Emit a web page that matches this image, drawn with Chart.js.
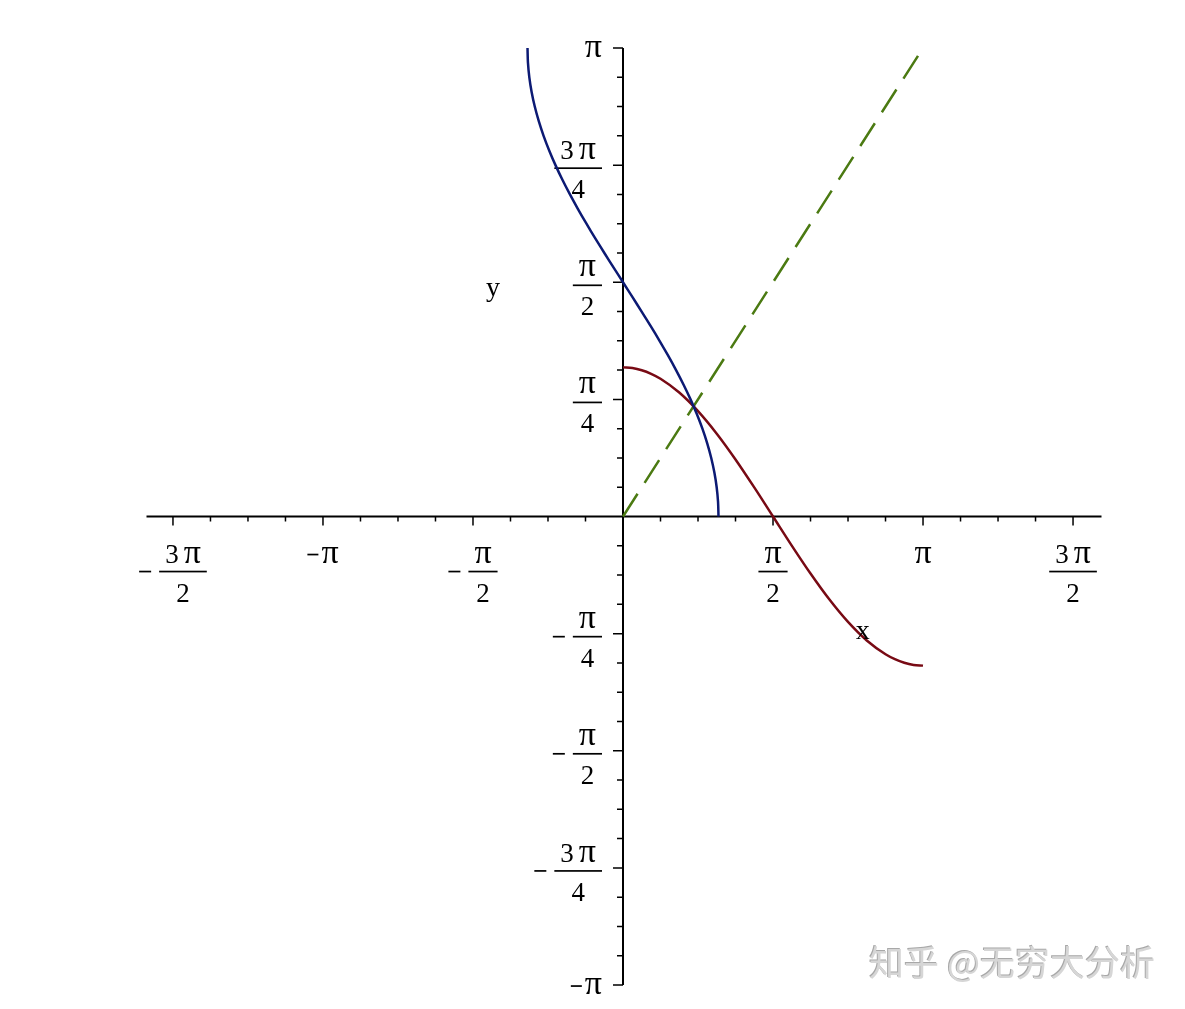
<!DOCTYPE html>
<html>
<head>
<meta charset="utf-8">
<script src="https://cdn.jsdelivr.net/npm/chart.js@4"></script>
<style>
  html, body { margin: 0; padding: 0; background: #fff; }
  canvas { display: block; }
</style>
</head>
<body>
<canvas id="chart" width="1185" height="1009"></canvas>
<script>
const PI = Math.PI

// y = cos(x) (x from 0 to pi)
const cosX = [0, 0.0982, 0.1963, 0.2945, 0.3927, 0.5890, 0.7854, 0.9817, 1.1781, 1.3744, 1.5708,
  1.7671, 1.9635, 2.1598, 2.3562, 2.5525, 2.7489, 2.8471, 2.9452, 3.0434, 3.1416]
const cosY = [1, 0.9952, 0.9808, 0.9569, 0.9239, 0.8315, 0.7071, 0.5556, 0.3827, 0.1951, 0,
  -0.1951, -0.3827, -0.5556, -0.7071, -0.8315, -0.9239, -0.9569, -0.9808, -0.9952, -1]

// y = arccos(x), blue curve, listed from the bottom end (1, 0) up to (-1, pi)
const acosX = [1, 0.9952, 0.9808, 0.9569, 0.9239, 0.8819, 0.8315, 0.7730, 0.7071,
  0.6344, 0.5556, 0.4714, 0.3827, 0.2903, 0.1951, 0.0980, 0,
  -0.0980, -0.1951, -0.2903, -0.3827, -0.4714, -0.5556, -0.6344, -0.7071,
  -0.7730, -0.8315, -0.8819, -0.9239, -0.9569, -0.9808, -0.9952, -1]
const acosY = [0, 0.0982, 0.1963, 0.2945, 0.3927, 0.4909, 0.5890, 0.6872, 0.7854,
  0.8836, 0.9817, 1.0799, 1.1781, 1.2763, 1.3744, 1.4726, 1.5708,
  1.6690, 1.7671, 1.8653, 1.9635, 2.0617, 2.1598, 2.2580, 2.3562,
  2.4544, 2.5525, 2.6507, 2.7489, 2.8471, 2.9452, 3.0434, 3.1416]

// y = x, green dashed line
const lineX = [0, 3.1416]
const lineY = [0, 3.1416]

// axis labels
const xTickValues = [-3 * PI / 2, -PI, -PI / 2, PI / 2, PI, 3 * PI / 2]
const xTickLabels = ["-3π/2", "-π", "-π/2", "π/2", "π", "3π/2"]
const yTickValues = [PI, 3 * PI / 4, PI / 2, PI / 4, -PI / 4, -PI / 2, -3 * PI / 4, -PI]
const yTickLabels = ["π", "3π/4", "π/2", "π/4", "-π/4", "-π/2", "-3π/4", "-π"]

const toPoints = (xs, ys) => xs.map((x, i) => ({ x: x, y: ys[i] }))

const FONT = "27px 'Liberation Serif', serif"
const PI_FONT = "34px 'Liberation Serif', serif"

// Maple draws pi from a bigger symbol font, so text is split into runs
function runs(s) {
  const out = []
  for (const ch of s) {
    if (ch === "π") {
      if (out.length && /\d/.test(out[out.length - 1].t)) out.push({ t: "", font: FONT, gap: 5 })
      out.push({ t: "π", font: PI_FONT })
    } else if (out.length && out[out.length - 1].font === FONT) {
      out[out.length - 1].t += ch
    } else {
      out.push({ t: ch, font: FONT })
    }
  }
  return out
}

function measureRich(ctx, s) {
  let w = 0
  for (const r of runs(s)) {
    ctx.font = r.font
    w += ctx.measureText(r.t).width + (r.gap || 0)
  }
  return w
}

function drawRich(ctx, s, x, base, align) {
  const w = measureRich(ctx, s)
  let cx = align === "right" ? x - w : align === "center" ? x - w / 2 : x
  ctx.textAlign = "left"
  for (const r of runs(s)) {
    ctx.font = r.font
    ctx.fillText(r.t, cx, base)
    cx += ctx.measureText(r.t).width + (r.gap || 0)
  }
}

function parseLabel(s) {
  const neg = s[0] === "-"
  const body = neg ? s.slice(1) : s
  const parts = body.split("/")
  return { neg, num: parts[0], den: parts[1] }
}

function fracBar(ctx, l) {
  return Math.max(measureRich(ctx, l.num), measureRich(ctx, l.den)) + 12
}

function labelWidth(ctx, l) {
  if (!l.den) return measureRich(ctx, l.num) + (l.neg ? 14 : 0)
  return fracBar(ctx, l) + (l.neg ? 20 : 0)
}

// draws a label whose right edge sits at `right`; fraction bar at barY
function drawLabel(ctx, l, right, barY, singleBase) {
  if (!l.den) {
    drawRich(ctx, l.num, right, singleBase, "right")
    if (l.neg) {
      const left = right - measureRich(ctx, l.num)
      ctx.fillRect(left - 14, singleBase - 8.8, 11, 1.7)
    }
    return
  }
  const bar = fracBar(ctx, l)
  const left = right - bar
  ctx.fillRect(left, barY - 0.8, bar, 1.7)
  drawRich(ctx, l.num, left + bar / 2, barY - 9, "center")
  drawRich(ctx, l.den, left + bar / 2, barY + 30, "center")
  if (l.neg) ctx.fillRect(left - 20, barY - 0.8, 12, 1.7)
}

const mapleAxes = {
  id: "mapleAxes",
  beforeDraw(chart) {
    const ctx = chart.ctx
    ctx.save()
    ctx.fillStyle = "#fff"
    ctx.fillRect(0, 0, chart.width, chart.height)
    ctx.restore()
  },
  beforeDatasetsDraw(chart) {
    const { ctx, scales: { x, y } } = chart
    const ox = x.getPixelForValue(0)
    const oy = y.getPixelForValue(0)
    ctx.save()
    ctx.strokeStyle = "#000"
    ctx.fillStyle = "#000"

    // axis lines
    ctx.lineWidth = 2
    ctx.beginPath()
    ctx.moveTo(x.left + 1, oy); ctx.lineTo(x.right + 1, oy)
    ctx.moveTo(ox, y.top); ctx.lineTo(ox, y.bottom)
    ctx.stroke()

    // x ticks every pi/8, longer every pi/2
    ctx.lineWidth = 1.5
    ctx.beginPath()
    for (let k = -12; k <= 12; k++) {
      if (k === 0) continue
      const px = x.getPixelForValue(k * PI / 8)
      ctx.moveTo(px, oy); ctx.lineTo(px, oy + (k % 4 === 0 ? 9 : 5))
    }
    // y ticks every pi/16, longer every pi/4
    for (let k = -16; k <= 16; k++) {
      if (k === 0) continue
      const py = y.getPixelForValue(k * PI / 16)
      ctx.moveTo(ox, py); ctx.lineTo(ox - (k % 4 === 0 ? 10 : 6), py)
    }
    ctx.stroke()

    // tick labels
    ctx.textBaseline = "alphabetic"
    xTickValues.forEach((v, i) => {
      const l = parseLabel(xTickLabels[i])
      const px = x.getPixelForValue(v)
      const w = labelWidth(ctx, l)
      drawLabel(ctx, l, px + w / 2, oy + 55, oy + 46)
    })
    yTickValues.forEach((v, i) => {
      const l = parseLabel(yTickLabels[i])
      const py = y.getPixelForValue(v)
      drawLabel(ctx, l, ox - 21, py + 3, py + 9)
    })
    ctx.restore()
  },
  afterDatasetsDraw(chart) {
    const { ctx, scales: { x, y } } = chart
    ctx.save()
    ctx.fillStyle = "#000"
    ctx.font = "28px 'Liberation Serif', serif"
    ctx.textAlign = "center"
    ctx.textBaseline = "middle"
    ctx.fillText("y", x.getPixelForValue(-1.36), y.getPixelForValue(1.53))
    ctx.fillText("x", x.getPixelForValue(2.51), y.getPixelForValue(-0.77))

    // watermark
    ctx.font = "35px 'Noto Sans CJK SC', sans-serif"
    ctx.textAlign = "right"
    ctx.textBaseline = "alphabetic"
    ctx.fillStyle = "#a8a8a8"
    ctx.fillText("知乎 @无穷大分析", 1154, 975)
    ctx.fillStyle = "#d6d6d6"
    ctx.fillText("知乎 @无穷大分析", 1155, 976)
    ctx.restore()
  }
}

new Chart(document.getElementById("chart"), {
  type: "scatter",
  data: {
    datasets: [
      {
        label: "arccos(x)",
        data: toPoints(acosX, acosY),
        borderColor: "#0c1a74",
        borderWidth: 2.5,
        tension: 0.3
      },
      {
        label: "cos(x)",
        data: toPoints(cosX, cosY),
        borderColor: "#780a14",
        borderWidth: 2.5,
        cubicInterpolationMode: "monotone"
      },
      {
        label: "x",
        data: toPoints(lineX, lineY),
        borderColor: "#4b7a12",
        borderWidth: 2.5,
        borderDash: [27, 13]
      }
    ]
  },
  options: {
    responsive: false,
    animation: false,
    showLine: true,
    elements: { point: { radius: 0 } },
    layout: { padding: { left: 145.5, right: 84.5, top: 48, bottom: 24 } },
    plugins: { legend: { display: false }, tooltip: { enabled: false } },
    scales: {
      x: { type: "linear", min: -5, max: 5, display: false },
      y: { type: "linear", min: -PI, max: PI, display: false }
    }
  },
  plugins: [mapleAxes]
})
</script>
</body>
</html>
